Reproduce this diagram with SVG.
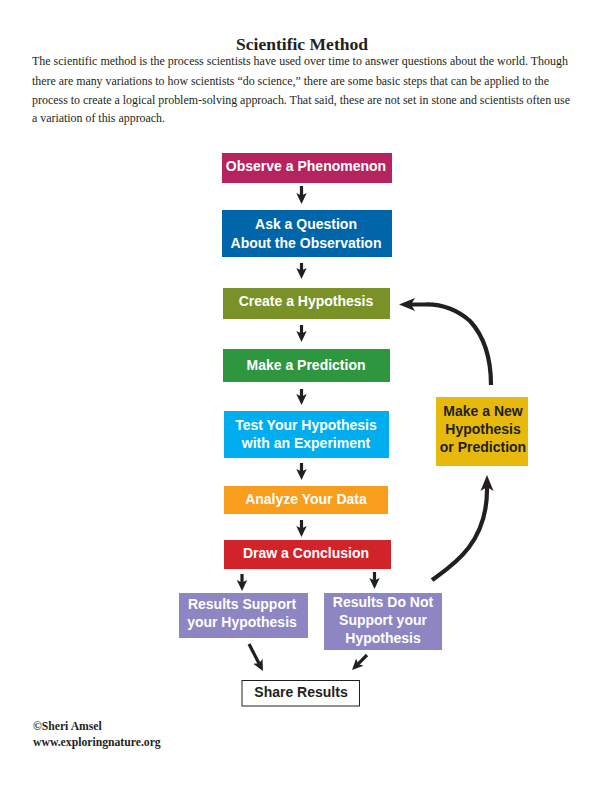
<svg xmlns="http://www.w3.org/2000/svg" width="612" height="792" viewBox="0 0 612 792">
<style>
.b{font:bold 14px "Liberation Sans",Arial,sans-serif;fill:#fff;text-anchor:middle}
.s{font:12px "Liberation Serif","Times New Roman",serif;fill:#231f20}
.f{font:bold 11.700px "Liberation Serif","Times New Roman",serif;fill:#231f20}
.c{fill:none;stroke:#231f20;stroke-width:3.200;marker-end:url(#h)}
.k{fill:none;stroke:#231f20;stroke-width:4.200;marker-end:url(#k)}
</style>
<defs>
<marker id="h" markerUnits="userSpaceOnUse" markerWidth="14" markerHeight="14" refX="3" refY="6" orient="auto"><path d="M11,6 L0,0.800 L2.500,6 L0,11.200 Z" fill="#231f20"/></marker>
<marker id="k" markerUnits="userSpaceOnUse" markerWidth="20" markerHeight="20" refX="5" refY="7" orient="auto"><path d="M16,7 L0,0.500 L4,7 L0,13.500 Z" fill="#231f20"/></marker>
</defs>
<rect width="612" height="792" fill="#fff"/>
<g id="title"><text x="302" y="50" text-anchor="middle" font-family="Liberation Serif, serif" font-weight="bold" font-size="17" fill="#231f20" textLength="132" lengthAdjust="spacingAndGlyphs">Scientific Method</text></g>
<g id="intro">
<text class="s" x="32" y="65" textLength="536" lengthAdjust="spacingAndGlyphs">The scientific method is the process scientists have used over time to answer questions about the world. Though</text>
<text class="s" x="32" y="85" textLength="517" lengthAdjust="spacingAndGlyphs">there are many variations to how scientists “do science,” there are some basic steps that can be applied to the</text>
<text class="s" x="32" y="104" textLength="538" lengthAdjust="spacingAndGlyphs">process to create a logical problem-solving approach. That said, these are not set in stone and scientists often use</text>
<text class="s" x="32" y="122" textLength="133" lengthAdjust="spacingAndGlyphs">a variation of this approach.</text>
</g>
<g id="connectors">
<path class="c" d="M301.500,186V196"/>
<path class="c" d="M301.500,263V271"/>
<path class="c" d="M301.500,325V334"/>
<path class="c" d="M301.500,389V397"/>
<path class="c" d="M301.500,463V472"/>
<path class="c" d="M301.500,520V529"/>
<path class="c" d="M242,574V583"/>
<path class="c" d="M374.500,572V581"/>
<path class="c" d="M249,644L259.300,663.900"/>
<path class="c" d="M367,655L357.700,664.300"/>
<path class="k" d="M491,385C491,352 481,333 470,321C456,309 440,304 425,304.500L410,304.500"/>
<path class="k" d="M432,580C450,567 487,545 487,490L487,486"/>
</g>
<g id="n1"><rect x="222" y="153" width="170" height="30" fill="#b5245f"/><text class="b" x="306" y="171">Observe a Phenomenon</text></g>
<g id="n2"><rect x="222" y="210" width="170" height="47" fill="#0066a9"/><text class="b" x="306" y="229">Ask a Question</text><text class="b" x="306" y="248">About the Observation</text></g>
<g id="n3"><rect x="223" y="288" width="167" height="31" fill="#7a9128"/><text class="b" x="306" y="306">Create a Hypothesis</text></g>
<g id="n4"><rect x="223" y="349" width="167" height="33" fill="#2f9640"/><text class="b" x="306" y="370">Make a Prediction</text></g>
<g id="n5"><rect x="224" y="411" width="165" height="47" fill="#00aeef"/><text class="b" x="306" y="430">Test Your Hypothesis</text><text class="b" x="306" y="448">with an Experiment</text></g>
<g id="n6"><rect x="224" y="486" width="164" height="28" fill="#f99d1c"/><text class="b" x="306" y="504">Analyze Your Data</text></g>
<g id="n7"><rect x="224" y="540" width="167" height="29" fill="#d2232a"/><text class="b" x="306" y="558">Draw a Conclusion</text></g>
<g id="n8"><rect x="179" y="593" width="129" height="45" fill="#8d86c2"/><text class="b" x="242" y="609">Results Support</text><text class="b" x="242" y="627">your Hypothesis</text></g>
<g id="n9"><rect x="324" y="593" width="118" height="57" fill="#8d86c2"/><text class="b" x="383" y="607">Results Do Not</text><text class="b" x="383" y="625">Support your</text><text class="b" x="383" y="643">Hypothesis</text></g>
<g id="n10"><rect x="242" y="680.500" width="117.500" height="25.500" fill="#fff" stroke="#231f20" stroke-width="1"/><text class="b" x="301" y="697" style="fill:#231f20">Share Results</text></g>
<g id="n11"><rect x="436" y="397" width="92" height="69" fill="#e6b90c"/><text class="b" x="483" y="416" style="fill:#231f20">Make a New</text><text class="b" x="483" y="434" style="fill:#231f20">Hypothesis</text><text class="b" x="483" y="452" style="fill:#231f20">or Prediction</text></g>
<g id="credit"><text class="f" x="33" y="730">©Sheri Amsel</text><text class="f" x="33" y="746">www.exploringnature.org</text></g>
</svg>
